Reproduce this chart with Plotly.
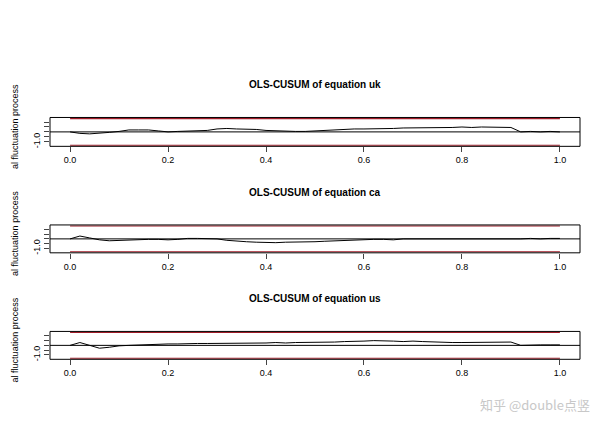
import plotly.graph_objects as go

# CUSUM paths, sampled at t = 0, 0.02, ..., 1.0
t = [i / 50 for i in range(51)]
uk = [0.0, -0.15, -0.2, -0.15, -0.05, 0.05, 0.2, 0.2, 0.2, 0.1, 0.0, 0.05, 0.1, 0.1, 0.15, 0.3,
      0.35, 0.3, 0.3, 0.25, 0.15, 0.1, 0.1, 0.05, 0.05, 0.1, 0.2, 0.2, 0.25, 0.3, 0.3, 0.3,
      0.35, 0.35, 0.4, 0.4, 0.4, 0.45, 0.4, 0.45, 0.5, 0.45, 0.5, 0.5, 0.45, 0.45, 0.0, 0.05,
      0.0, 0.05, 0.0]
ca = [0.0, 0.3, 0.1, -0.1, -0.2, -0.15, -0.1, -0.1, -0.05, -0.05, -0.1, -0.05, 0.05, 0.05, 0.05,
      0.0, -0.15, -0.25, -0.3, -0.35, -0.4, -0.4, -0.35, -0.35, -0.3, -0.3, -0.25, -0.2, -0.15,
      -0.1, -0.1, -0.05, -0.05, -0.1, 0.0, 0.0, -0.05, 0.0, 0.0, -0.05, 0.0, 0.0, -0.05, -0.05,
      0.0, 0.0, 0.0, 0.05, 0.0, 0.05, 0.05]
us = [0.0, 0.3, 0.0, -0.3, -0.2, -0.05, 0.0, 0.05, 0.1, 0.15, 0.15, 0.15, 0.2, 0.2, 0.2, 0.2,
      0.25, 0.2, 0.2, 0.2, 0.25, 0.3, 0.25, 0.3, 0.3, 0.35, 0.3, 0.35, 0.4, 0.4, 0.45, 0.5,
      0.5, 0.45, 0.4, 0.45, 0.4, 0.35, 0.35, 0.3, 0.3, 0.3, 0.35, 0.3, 0.3, 0.35, 0.0, 0.05,
      0.05, 0.05, 0.05]
names = ["uk", "ca", "us"]
paths = [uk, ca, us]
bound = 1.358

OFF = 8  # page body margin
W, H = 600 - 2 * OFF, 431 - 2 * OFF
boxes = [(118, 147), (226, 254), (333, 361)]  # pixel top/bottom of each panel (screen)


def px(x):
    return (x - OFF) / W


def py(y):
    return 1 - (y - OFF) / H


XR = [-0.041, 1.041]
fig = go.Figure()
annotations = []
shapes = []
for k, (name, y) in enumerate(zip(names, paths)):
    top, bot = boxes[k]
    xa = "xaxis" if k == 0 else f"xaxis{k + 1}"
    ya = "yaxis" if k == 0 else f"yaxis{k + 1}"
    xr = "x" if k == 0 else f"x{k + 1}"
    yr = "y" if k == 0 else f"y{k + 1}"
    fig.add_trace(go.Scatter(x=t, y=y, mode="lines", line=dict(color="black", width=1),
                             xaxis=xr, yaxis=yr, showlegend=False))
    for b in (bound, -bound):
        fig.add_trace(go.Scatter(x=[t[0], t[-1]], y=[b, b], mode="lines",
                                 line=dict(color="#a01c28", width=1.2),
                                 xaxis=xr, yaxis=yr, showlegend=False))
    fig.add_trace(go.Scatter(x=XR, y=[0, 0], mode="lines",
                             line=dict(color="black", width=1),
                             xaxis=xr, yaxis=yr, showlegend=False))
    fig.layout[xa] = dict(domain=[px(50), px(580)], range=XR, anchor=yr,
                          tickvals=[0, 0.2, 0.4, 0.6, 0.8, 1.0],
                          ticktext=["0.0", "0.2", "0.4", "0.6", "0.8", "1.0"],
                          ticks="outside", ticklen=5, showgrid=False, zeroline=False,
                          showline=False, tickfont=dict(size=9))
    fig.layout[ya] = dict(domain=[py(bot), py(top)], range=[-1.47, 1.47], anchor=xr,
                          tickvals=[-1, -0.5, 0, 0.5, 1], ticktext=["-1.0", "", "", "", ""],
                          tickangle=-90, ticks="outside", ticklen=5, showgrid=False,
                          zeroline=False, showline=False, tickfont=dict(size=9))
    shapes.append(dict(type="rect", xref="paper", yref="paper", x0=px(50), x1=px(580),
                       y0=py(bot), y1=py(top), line=dict(color="black", width=1)))
    annotations.append(dict(text=f"<b>OLS-CUSUM of equation {name}</b>", xref="paper",
                            yref="paper", x=px(315), y=py(top - 33), showarrow=False,
                            xanchor="center", yanchor="middle", font=dict(size=10)))
    annotations.append(dict(text="al fluctuation process", xref="paper", yref="paper",
                            x=px(15), y=py((top + bot) / 2 - 5), textangle=-90,
                            xanchor="center", yanchor="middle",
                            showarrow=False, font=dict(size=9)))

annotations.append(dict(text="知乎 @double点竖", xref="paper", yref="paper", x=px(535),
                        y=py(406), showarrow=False, xanchor="center", yanchor="middle",
                        font=dict(size=13, color="#c8c8c8",
                                  family="Noto Sans CJK SC")))

fig.update_layout(width=W, height=H, margin=dict(l=0, r=0, t=0, b=0),
                  paper_bgcolor="white", plot_bgcolor="white",
                  font=dict(family="Liberation Sans, Arial", color="black"),
                  annotations=annotations, shapes=shapes)
fig.write_html("out.html")
